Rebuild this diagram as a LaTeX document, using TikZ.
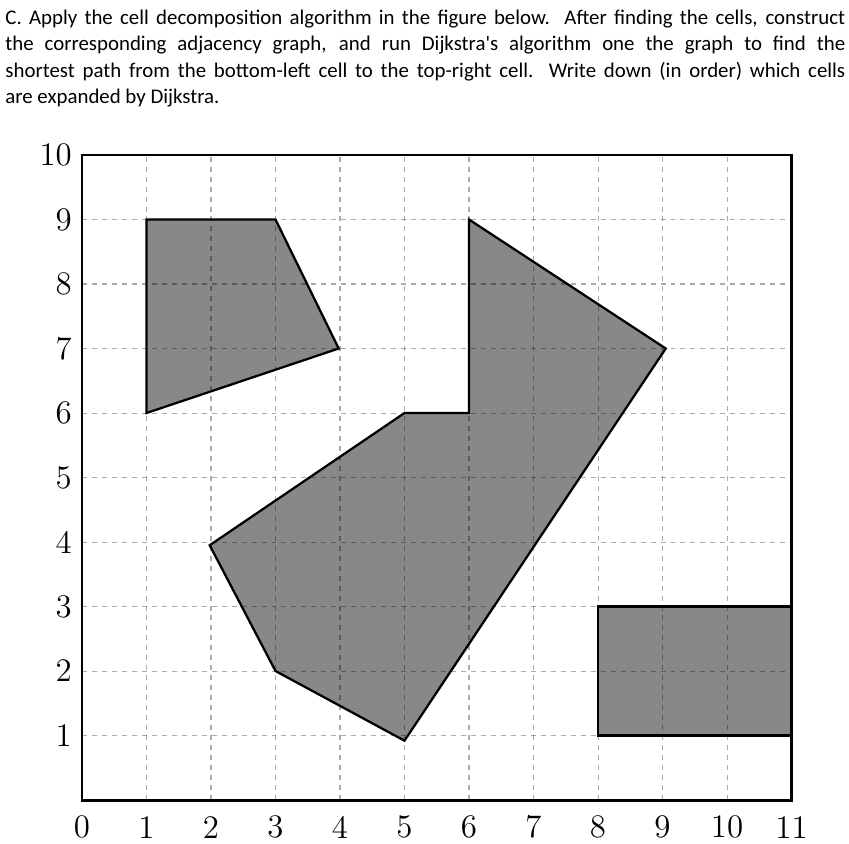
\documentclass[tikz,border=0pt]{standalone}
\usepackage{fontspec}
\newfontfamily\calib{Carlito}
\definecolor{obst}{RGB}{136,136,136}
\tikzset{
  obstacle/.style={fill=obst},
  obstline/.style={draw=black, line width=1pt, line join=miter},
  gridline/.style={draw=black, opacity=0.33, line width=0.45pt, dash pattern=on 2.2pt off 2.2pt},
  frame/.style={draw=black, line width=1.3pt},
  ticklab/.style={inner sep=0pt, font=\fontsize{14.5}{16}\selectfont},
}
\begin{document}
\begin{tikzpicture}[x=1cm,y=1cm]
\useasboundingbox[fill=white] (-1.271,-0.667) rectangle (11.891,12.403);
% question text
\node[anchor=base west, inner sep=0pt] (question) at (-1.194,12.03)
  {\parbox[t]{13.02cm}{\calib\fontsize{9.2}{11.75}\selectfont
  C. Apply the cell decomposition algorithm in the figure below.\ \ After finding the cells, construct\linebreak
  the corresponding adjacency graph, and run Dijkstra's algorithm one the graph to find the\linebreak
  shortest path from the bottom-left cell to the top-right cell.\ \ Write down (in order) which cells\linebreak
  are expanded by Dijkstra.}};
% obstacles (fill)
\coordinate (a1) at (1,9); \coordinate (a2) at (3,9); \coordinate (a3) at (3.98,7); \coordinate (a4) at (1,6);
\coordinate (b1) at (6,9); \coordinate (b2) at (9.05,7); \coordinate (b3) at (5,0.92); \coordinate (b4) at (3,2);
\coordinate (b5) at (1.98,3.95); \coordinate (b6) at (5,6); \coordinate (b7) at (6,6);
\coordinate (c1) at (8,1); \coordinate (c2) at (11,3);
\fill[obstacle] (a1) -- (a2) -- (a3) -- (a4) -- cycle;
\fill[obstacle] (b1) -- (b2) -- (b3) -- (b4) -- (b5) -- (b6) -- (b7) -- cycle;
\fill[obstacle] (c1) rectangle (c2);
% grid
\foreach \x in {1,...,10} { \draw[gridline] (\x,0) -- (\x,10); }
\foreach \y in {1,...,9} { \draw[gridline] (0,\y) -- (11,\y); }
% obstacle outlines
\draw[obstline] (a1) -- (a2) -- (a3) -- (a4) -- cycle;
\draw[obstline] (b1) -- (b2) -- (b3) -- (b4) -- (b5) -- (b6) -- (b7) -- cycle;
\draw[obstline] (c1) rectangle (c2);
% frame
\draw[frame, line cap=rect] (0,0) rectangle (11,10);
% tick labels
\foreach \x in {0,...,11} { \node[ticklab] (xl\x) at (\x,-0.42) {\x}; }
\foreach \y in {1,...,10} { \node[ticklab, anchor=east] (yl\y) at (-0.15,\y) {\y}; }
\end{tikzpicture}
\end{document}
